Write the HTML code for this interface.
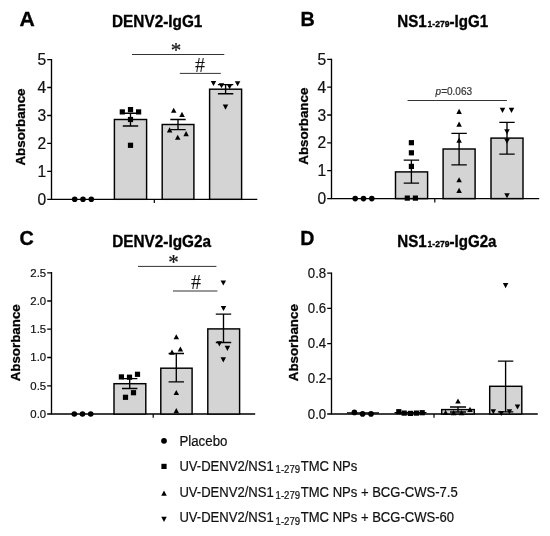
<!DOCTYPE html>
<html lang="en"><head><meta charset="utf-8"><title>Figure</title>
<style>html,body{margin:0;padding:0;background:#fff}body{width:550px;height:536px;overflow:hidden}svg{display:block}</style>
</head><body>
<svg width="550" height="536" viewBox="0 0 550 536" font-family='"Liberation Sans", Arial, Helvetica, sans-serif'>
<rect width="550" height="536" fill="#fff"/>
<g id="panelA" fill="#000">
<text transform="translate(19.50 25.90) scale(1.05 1.03)" font-size="20.2" font-weight="bold" stroke="#000" stroke-width="0.32" stroke-linejoin="round" fill="#000">A</text>
<text transform="translate(112.00 27.10) scale(1.0 1.03)" font-size="15.35" font-weight="bold" stroke="#000" stroke-width="0.32" stroke-linejoin="round" fill="#000">DENV2-IgG1</text>
<path d="M51.5 58.9V200.0M50.9 199.3H257.3" fill="none" stroke="#000" stroke-width="1.35"/>
<path d="M47.2 199.3H51.5M47.2 171.4H51.5M47.2 143.4H51.5M47.2 115.5H51.5M47.2 87.5H51.5M47.2 59.6H51.5" fill="none" stroke="#000" stroke-width="1.3"/>
<path d="M154.3 199.3V203.1" fill="none" stroke="#000" stroke-width="1.2"/>
<text transform="translate(46.20 204.80) scale(1.0 1.04)" font-size="15.6" text-anchor="end" stroke="#111" stroke-width="0.2" stroke-linejoin="round" fill="#111">0</text>
<text transform="translate(46.20 176.85) scale(1.0 1.04)" font-size="15.6" text-anchor="end" stroke="#111" stroke-width="0.2" stroke-linejoin="round" fill="#111">1</text>
<text transform="translate(46.20 148.90) scale(1.0 1.04)" font-size="15.6" text-anchor="end" stroke="#111" stroke-width="0.2" stroke-linejoin="round" fill="#111">2</text>
<text transform="translate(46.20 120.95) scale(1.0 1.04)" font-size="15.6" text-anchor="end" stroke="#111" stroke-width="0.2" stroke-linejoin="round" fill="#111">3</text>
<text transform="translate(46.20 93.00) scale(1.0 1.04)" font-size="15.6" text-anchor="end" stroke="#111" stroke-width="0.2" stroke-linejoin="round" fill="#111">4</text>
<text transform="translate(46.20 65.05) scale(1.0 1.04)" font-size="15.6" text-anchor="end" stroke="#111" stroke-width="0.2" stroke-linejoin="round" fill="#111">5</text>
<text transform="translate(25.20 127.00) rotate(-90) scale(1.0 0.92)" font-size="13.35" text-anchor="middle" font-weight="bold" stroke="#000" stroke-width="0.32" stroke-linejoin="round" fill="#000">Absorbance</text>
<circle cx="74.7" cy="199.3" r="2.8"/>
<circle cx="83.0" cy="199.3" r="2.8"/>
<circle cx="91.3" cy="199.3" r="2.8"/>
<rect x="114.4" y="119.5" width="32.2" height="79.8" fill="#d4d4d4" stroke="#000" stroke-width="1.45"/>
<rect x="162.2" y="124.5" width="31.7" height="74.8" fill="#d4d4d4" stroke="#000" stroke-width="1.45"/>
<rect x="209.6" y="89.2" width="32.0" height="110.1" fill="#d4d4d4" stroke="#000" stroke-width="1.45"/>
<path d="M130.5 113.2V126.0M122.8 113.2H138.2M122.8 126.0H138.2" fill="none" stroke="#000" stroke-width="1.35"/>
<path d="M178.0 119.5V129.6M170.3 119.5H185.7M170.3 129.6H185.7" fill="none" stroke="#000" stroke-width="1.35"/>
<path d="M225.6 84.6V93.7M217.9 84.6H233.3M217.9 93.7H233.3" fill="none" stroke="#000" stroke-width="1.35"/>
<rect x="119.7" y="109.3" width="5.2" height="5.2"/>
<rect x="127.9" y="107.0" width="5.2" height="5.2"/>
<rect x="136.0" y="109.3" width="5.2" height="5.2"/>
<rect x="127.9" y="116.9" width="5.2" height="5.2"/>
<rect x="127.9" y="142.7" width="5.2" height="5.2"/>
<path d="M170.95 112.85L176.45 112.85L173.70 107.75Z"/>
<path d="M179.25 116.95L184.75 116.95L182.00 111.85Z"/>
<path d="M166.85 132.45L172.35 132.45L169.60 127.35Z"/>
<path d="M183.35 136.15L188.85 136.15L186.10 131.05Z"/>
<path d="M174.95 139.75L180.45 139.75L177.70 134.65Z"/>
<path d="M210.75 80.95L216.25 80.95L213.50 86.05Z"/>
<path d="M234.85 81.25L240.35 81.25L237.60 86.35Z"/>
<path d="M218.75 83.15L224.25 83.15L221.50 88.25Z"/>
<path d="M226.85 84.15L232.35 84.15L229.60 89.25Z"/>
<path d="M222.75 104.55L228.25 104.55L225.50 109.65Z"/>
<path d="M132.0 54.5H224.3" fill="none" stroke="#333" stroke-width="1"/>
<path d="M179.8 73.4H220.8" fill="none" stroke="#333" stroke-width="1"/>
<text transform="translate(176.00 56.70)" font-size="21" text-anchor="middle" stroke="#111" stroke-width="0.2" stroke-linejoin="round" font-family='"Liberation Serif", "Times New Roman", Times, serif' fill="#111">*</text>
<text transform="translate(199.90 71.90)" font-size="20" text-anchor="middle" font-family='"Liberation Serif", "Times New Roman", Times, serif' fill="#111">#</text>
</g>
<g id="panelB" fill="#000">
<text transform="translate(300.60 26.40) scale(1.0 1.03)" font-size="19.8" font-weight="bold" stroke="#000" stroke-width="0.32" stroke-linejoin="round" fill="#000">B</text>
<text transform="translate(397.30 27.00) scale(0.985 1.03)" font-size="15.35" font-weight="bold" stroke="#000" stroke-width="0.32" stroke-linejoin="round" fill="#000">NS1<tspan font-size="8.7" dx="0.9">1-279</tspan>-IgG1</text>
<path d="M331.5 58.7V199.2M330.9 198.6H539.2" fill="none" stroke="#000" stroke-width="1.35"/>
<path d="M327.2 198.6H331.5M327.2 170.7H331.5M327.2 142.9H331.5M327.2 115.0H331.5M327.2 87.2H331.5M327.2 59.3H331.5" fill="none" stroke="#000" stroke-width="1.3"/>
<path d="M434.8 198.6V202.4" fill="none" stroke="#000" stroke-width="1.2"/>
<text transform="translate(326.20 204.05) scale(1.0 1.04)" font-size="15.6" text-anchor="end" stroke="#111" stroke-width="0.2" stroke-linejoin="round" fill="#111">0</text>
<text transform="translate(326.20 176.20) scale(1.0 1.04)" font-size="15.6" text-anchor="end" stroke="#111" stroke-width="0.2" stroke-linejoin="round" fill="#111">1</text>
<text transform="translate(326.20 148.35) scale(1.0 1.04)" font-size="15.6" text-anchor="end" stroke="#111" stroke-width="0.2" stroke-linejoin="round" fill="#111">2</text>
<text transform="translate(326.20 120.50) scale(1.0 1.04)" font-size="15.6" text-anchor="end" stroke="#111" stroke-width="0.2" stroke-linejoin="round" fill="#111">3</text>
<text transform="translate(326.20 92.65) scale(1.0 1.04)" font-size="15.6" text-anchor="end" stroke="#111" stroke-width="0.2" stroke-linejoin="round" fill="#111">4</text>
<text transform="translate(326.20 64.80) scale(1.0 1.04)" font-size="15.6" text-anchor="end" stroke="#111" stroke-width="0.2" stroke-linejoin="round" fill="#111">5</text>
<text transform="translate(308.40 126.20) rotate(-90) scale(1.0 0.92)" font-size="13.35" text-anchor="middle" font-weight="bold" stroke="#000" stroke-width="0.32" stroke-linejoin="round" fill="#000">Absorbance</text>
<circle cx="355.2" cy="198.6" r="2.8"/>
<circle cx="363.5" cy="198.6" r="2.8"/>
<circle cx="371.8" cy="198.6" r="2.8"/>
<rect x="395.5" y="171.9" width="32.1" height="26.7" fill="#d4d4d4" stroke="#000" stroke-width="1.45"/>
<rect x="443.1" y="149.0" width="32.0" height="49.6" fill="#d4d4d4" stroke="#000" stroke-width="1.45"/>
<rect x="491.0" y="138.1" width="32.0" height="60.5" fill="#d4d4d4" stroke="#000" stroke-width="1.45"/>
<path d="M411.4 160.1V183.1M403.7 160.1H419.1M403.7 183.1H419.1" fill="none" stroke="#000" stroke-width="1.35"/>
<path d="M459.1 133.4V164.8M451.4 133.4H466.8M451.4 164.8H466.8" fill="none" stroke="#000" stroke-width="1.35"/>
<path d="M507.0 122.3V154.1M499.3 122.3H514.7M499.3 154.1H514.7" fill="none" stroke="#000" stroke-width="1.35"/>
<rect x="408.8" y="140.1" width="5.2" height="5.2"/>
<rect x="408.8" y="150.2" width="5.2" height="5.2"/>
<rect x="408.8" y="163.8" width="5.2" height="5.2"/>
<rect x="404.7" y="195.5" width="5.2" height="5.2"/>
<rect x="412.8" y="195.5" width="5.2" height="5.2"/>
<path d="M456.35 113.95L461.85 113.95L459.10 108.85Z"/>
<path d="M456.35 126.65L461.85 126.65L459.10 121.55Z"/>
<path d="M456.35 142.65L461.85 142.65L459.10 137.55Z"/>
<path d="M456.35 182.35L461.85 182.35L459.10 177.25Z"/>
<path d="M456.35 192.95L461.85 192.95L459.10 187.85Z"/>
<path d="M499.75 107.85L505.25 107.85L502.50 112.95Z"/>
<path d="M508.75 107.85L514.25 107.85L511.50 112.95Z"/>
<path d="M504.25 129.35L509.75 129.35L507.00 134.45Z"/>
<path d="M504.25 138.65L509.75 138.65L507.00 143.75Z"/>
<path d="M504.25 193.25L509.75 193.25L507.00 198.35Z"/>
<path d="M407.6 100.5H506.9" fill="none" stroke="#333" stroke-width="1"/>
<text transform="translate(435.60 94.60)" font-size="10" stroke="#333" stroke-width="0.2" stroke-linejoin="round" fill="#333"><tspan font-style="italic">p</tspan>=0.063</text>
</g>
<g id="panelC" fill="#000">
<text transform="translate(19.40 245.20) scale(1.0 1.03)" font-size="19.8" font-weight="bold" stroke="#000" stroke-width="0.32" stroke-linejoin="round" fill="#000">C</text>
<text transform="translate(112.20 246.80) scale(1.0 1.03)" font-size="15.35" font-weight="bold" stroke="#000" stroke-width="0.32" stroke-linejoin="round" fill="#000">DENV2-IgG2a</text>
<path d="M51.5 272.1V414.6M50.9 414.0H255.2" fill="none" stroke="#000" stroke-width="1.35"/>
<path d="M47.2 414.0H51.5M47.2 385.8H51.5M47.2 357.5H51.5M47.2 329.2H51.5M47.2 301.0H51.5M47.2 272.8H51.5" fill="none" stroke="#000" stroke-width="1.3"/>
<path d="M153.2 414.0V417.8" fill="none" stroke="#000" stroke-width="1.2"/>
<text transform="translate(46.20 417.95) scale(1.0 1.03)" font-size="11.4" text-anchor="end" stroke="#111" stroke-width="0.2" stroke-linejoin="round" fill="#111">0.0</text>
<text transform="translate(46.20 389.70) scale(1.0 1.03)" font-size="11.4" text-anchor="end" stroke="#111" stroke-width="0.2" stroke-linejoin="round" fill="#111">0.5</text>
<text transform="translate(46.20 361.45) scale(1.0 1.03)" font-size="11.4" text-anchor="end" stroke="#111" stroke-width="0.2" stroke-linejoin="round" fill="#111">1.0</text>
<text transform="translate(46.20 333.20) scale(1.0 1.03)" font-size="11.4" text-anchor="end" stroke="#111" stroke-width="0.2" stroke-linejoin="round" fill="#111">1.5</text>
<text transform="translate(46.20 304.95) scale(1.0 1.03)" font-size="11.4" text-anchor="end" stroke="#111" stroke-width="0.2" stroke-linejoin="round" fill="#111">2.0</text>
<text transform="translate(46.20 276.70) scale(1.0 1.03)" font-size="11.4" text-anchor="end" stroke="#111" stroke-width="0.2" stroke-linejoin="round" fill="#111">2.5</text>
<text transform="translate(20.20 342.80) rotate(-90) scale(1.0 0.92)" font-size="13.35" text-anchor="middle" font-weight="bold" stroke="#000" stroke-width="0.32" stroke-linejoin="round" fill="#000">Absorbance</text>
<circle cx="74.3" cy="414.0" r="2.8"/>
<circle cx="82.5" cy="414.0" r="2.8"/>
<circle cx="90.7" cy="414.0" r="2.8"/>
<rect x="114.0" y="383.7" width="31.8" height="30.3" fill="#d4d4d4" stroke="#000" stroke-width="1.45"/>
<rect x="160.8" y="368.2" width="31.3" height="45.8" fill="#d4d4d4" stroke="#000" stroke-width="1.45"/>
<rect x="207.8" y="328.9" width="31.8" height="85.1" fill="#d4d4d4" stroke="#000" stroke-width="1.45"/>
<path d="M129.7 378.6V388.5M122.0 378.6H137.4M122.0 388.5H137.4" fill="none" stroke="#000" stroke-width="1.35"/>
<path d="M176.3 353.5V381.8M168.6 353.5H184.0M168.6 381.8H184.0" fill="none" stroke="#000" stroke-width="1.35"/>
<path d="M223.5 314.1V342.5M215.8 314.1H231.2M215.8 342.5H231.2" fill="none" stroke="#000" stroke-width="1.35"/>
<rect x="118.8" y="374.3" width="5.2" height="5.2"/>
<rect x="126.9" y="374.6" width="5.2" height="5.2"/>
<rect x="134.9" y="371.7" width="5.2" height="5.2"/>
<rect x="130.9" y="390.1" width="5.2" height="5.2"/>
<rect x="122.9" y="394.7" width="5.2" height="5.2"/>
<path d="M173.55 339.25L179.05 339.25L176.30 334.15Z"/>
<path d="M169.25 354.65L174.75 354.65L172.00 349.55Z"/>
<path d="M177.65 351.55L183.15 351.55L180.40 346.45Z"/>
<path d="M173.55 395.05L179.05 395.05L176.30 389.95Z"/>
<path d="M173.55 413.15L179.05 413.15L176.30 408.05Z"/>
<path d="M220.55 280.45L226.05 280.45L223.30 285.55Z"/>
<path d="M220.75 305.95L226.25 305.95L223.50 311.05Z"/>
<path d="M216.65 341.35L222.15 341.35L219.40 346.45Z"/>
<path d="M224.65 345.85L230.15 345.85L227.40 350.95Z"/>
<path d="M220.55 357.35L226.05 357.35L223.30 362.45Z"/>
<path d="M138.0 266.4H216.4" fill="none" stroke="#333" stroke-width="1"/>
<path d="M173.0 291.0H217.4" fill="none" stroke="#333" stroke-width="1"/>
<text transform="translate(173.40 269.40)" font-size="21" text-anchor="middle" stroke="#111" stroke-width="0.2" stroke-linejoin="round" font-family='"Liberation Serif", "Times New Roman", Times, serif' fill="#111">*</text>
<text transform="translate(196.00 288.80)" font-size="20" text-anchor="middle" font-family='"Liberation Serif", "Times New Roman", Times, serif' fill="#111">#</text>
</g>
<g id="panelD" fill="#000">
<text transform="translate(300.30 245.30) scale(1.0 1.03)" font-size="19.6" font-weight="bold" stroke="#000" stroke-width="0.32" stroke-linejoin="round" fill="#000">D</text>
<text transform="translate(397.30 247.00) scale(0.985 1.03)" font-size="15.35" font-weight="bold" stroke="#000" stroke-width="0.32" stroke-linejoin="round" fill="#000">NS1<tspan font-size="8.7" dx="0.9">1-279</tspan>-IgG2a</text>
<path d="M331.5 272.6V414.6M330.9 414.0H537.8" fill="none" stroke="#000" stroke-width="1.35"/>
<path d="M327.2 414.0H331.5M327.2 378.8H331.5M327.2 343.6H331.5M327.2 308.4H331.5M327.2 273.2H331.5" fill="none" stroke="#000" stroke-width="1.3"/>
<path d="M434.0 414.0V417.8" fill="none" stroke="#000" stroke-width="1.2"/>
<text transform="translate(326.20 418.64) scale(1.0 1.04)" font-size="13.2" text-anchor="end" stroke="#111" stroke-width="0.2" stroke-linejoin="round" fill="#111">0.0</text>
<text transform="translate(326.20 383.44) scale(1.0 1.04)" font-size="13.2" text-anchor="end" stroke="#111" stroke-width="0.2" stroke-linejoin="round" fill="#111">0.2</text>
<text transform="translate(326.20 348.24) scale(1.0 1.04)" font-size="13.2" text-anchor="end" stroke="#111" stroke-width="0.2" stroke-linejoin="round" fill="#111">0.4</text>
<text transform="translate(326.20 313.04) scale(1.0 1.04)" font-size="13.2" text-anchor="end" stroke="#111" stroke-width="0.2" stroke-linejoin="round" fill="#111">0.6</text>
<text transform="translate(326.20 277.84) scale(1.0 1.04)" font-size="13.2" text-anchor="end" stroke="#111" stroke-width="0.2" stroke-linejoin="round" fill="#111">0.8</text>
<text transform="translate(298.30 342.70) rotate(-90) scale(1.0 0.92)" font-size="13.35" text-anchor="middle" font-weight="bold" stroke="#000" stroke-width="0.32" stroke-linejoin="round" fill="#000">Absorbance</text>
<path d="M347 412.8H379M394.5 412.6H426.5" fill="none" stroke="#000" stroke-width="1.2"/>
<circle cx="354.4" cy="412.4" r="2.8"/>
<circle cx="362.6" cy="413.9" r="2.8"/>
<circle cx="371.0" cy="413.9" r="2.8"/>
<rect x="441.7" y="409.6" width="32.6" height="4.4" fill="#d4d4d4" stroke="#000" stroke-width="1.45"/>
<rect x="489.7" y="386.3" width="32.1" height="27.7" fill="#d4d4d4" stroke="#000" stroke-width="1.45"/>
<path d="M458.0 407.0V412.0M450.0 407.0H466.0M450.0 412.0H466.0" fill="none" stroke="#000" stroke-width="1.35"/>
<path d="M505.6 361.1V411.8M497.9 361.1H513.3M497.9 411.8H513.3" fill="none" stroke="#000" stroke-width="1.35"/>
<rect x="396.2" y="409.1" width="5.2" height="5.2"/>
<rect x="401.6" y="410.5" width="5.2" height="5.2"/>
<rect x="407.8" y="410.8" width="5.2" height="5.2"/>
<rect x="413.8" y="410.5" width="5.2" height="5.2"/>
<rect x="419.6" y="410.1" width="5.2" height="5.2"/>
<path d="M455.25 403.55L460.75 403.55L458.00 398.45Z"/>
<path d="M467.25 411.95L472.75 411.95L470.00 406.85Z"/>
<path d="M442.85 414.95L448.35 414.95L445.60 409.85Z"/>
<path d="M450.85 415.15L456.35 415.15L453.60 410.05Z"/>
<path d="M458.85 415.15L464.35 415.15L461.60 410.05Z"/>
<path d="M502.85 283.05L508.35 283.05L505.60 288.15Z"/>
<path d="M490.55 409.25L496.05 409.25L493.30 414.35Z"/>
<path d="M498.55 410.95L504.05 410.95L501.30 416.05Z"/>
<path d="M506.65 409.25L512.15 409.25L509.40 414.35Z"/>
<path d="M514.75 404.45L520.25 404.45L517.50 409.55Z"/>
</g>
<g id="legend" fill="#000">
<circle cx="164.0" cy="440.8" r="2.9"/>
<rect x="161.4" y="463.8" width="5.2" height="5.2"/>
<path d="M161.25 495.65L166.75 495.65L164.00 490.55Z"/>
<path d="M161.25 516.85L166.75 516.85L164.00 521.95Z"/>
<text transform="translate(179.40 445.50) scale(1.0 1.07)" font-size="13.3" stroke="#111" stroke-width="0.2" stroke-linejoin="round" fill="#111">Placebo</text>
<text transform="translate(179.40 470.50) scale(1.0 1.07)" font-size="13.07" stroke="#111" stroke-width="0.2" stroke-linejoin="round" fill="#111">UV-DENV2/NS1<tspan font-size="9.6" dx="1.9" dy="2.5">1-279</tspan><tspan dx="0.6" dy="-2.5">TMC NPs</tspan></text>
<text transform="translate(179.40 496.50) scale(1.0 1.07)" font-size="13.07" stroke="#111" stroke-width="0.2" stroke-linejoin="round" fill="#111">UV-DENV2/NS1<tspan font-size="9.6" dx="1.9" dy="2.5">1-279</tspan><tspan dx="0.6" dy="-2.5">TMC NPs + BCG-CWS-7.5</tspan></text>
<text transform="translate(179.40 522.40) scale(1.0 1.07)" font-size="13.07" stroke="#111" stroke-width="0.2" stroke-linejoin="round" fill="#111">UV-DENV2/NS1<tspan font-size="9.6" dx="1.9" dy="2.5">1-279</tspan><tspan dx="0.6" dy="-2.5">TMC NPs + BCG-CWS-60</tspan></text>
</g>
</svg>
</body></html>
